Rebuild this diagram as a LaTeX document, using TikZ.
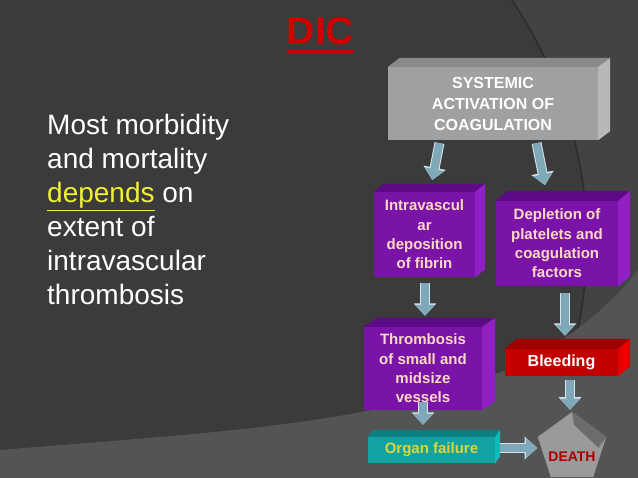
\documentclass[tikz,border=0pt]{standalone}
\usepackage{fontspec}
\setmainfont{Liberation Sans}
\usetikzlibrary{arrows.meta,shapes.geometric}
\definecolor{bgdark}{HTML}{3B3B3B}
\definecolor{bglight}{HTML}{545454}
\definecolor{bgmid}{HTML}{434343}
\definecolor{arcline}{HTML}{2C2C2C}
\definecolor{titlered}{HTML}{D00000}
\definecolor{hiyellow}{HTML}{F0F030}
\definecolor{grayfront}{HTML}{A0A0A0}
\definecolor{graytop}{HTML}{8A8A8A}
\definecolor{grayside}{HTML}{B8B8B8}
\definecolor{purfront}{HTML}{7A14A8}
\definecolor{purtop}{HTML}{5C0A86}
\definecolor{purside}{HTML}{9020C4}
\definecolor{pinktext}{HTML}{FFD9C4}
\definecolor{redfront}{HTML}{C20000}
\definecolor{redtop}{HTML}{9E0000}
\definecolor{redside}{HTML}{E60000}
\definecolor{tealfront}{HTML}{12A2A2}
\definecolor{tealtop}{HTML}{0C8080}
\definecolor{tealside}{HTML}{18B8B8}
\definecolor{tealtext}{HTML}{D8D83A}
\definecolor{deathface}{HTML}{9A9A9A}
\definecolor{deathfacet}{HTML}{6C6C6C}
\definecolor{deathtext}{HTML}{A80000}
\definecolor{arrowfill}{HTML}{7FA9B9}
\definecolor{arrowedge}{HTML}{D5E3EA}
\newcommand\cubefaces[5]{%
  \fill[#2] (#1.north west) -- ++(#4,-#5) -- ([shift={(#4,-#5)}]#1.north east) -- (#1.north east) -- cycle;
  \fill[#3] (#1.north east) -- ++(#4,-#5) -- ([shift={(#4,-#5)}]#1.south east) -- (#1.south east) -- cycle;
}
\tikzset{
  boxface/.style={inner sep=0pt, align=center, font=\bfseries},
  purbox/.style={boxface, fill=purfront, text=pinktext, font=\fontsize{15}{19.3}\selectfont\bfseries},
  blockarrow/.style={draw=arrowfill, line width=8pt, -{Triangle[length=11pt,width=19pt]},
    preaction={draw=arrowedge, line width=10pt, -{Triangle[length=12.5pt,width=22pt]}}},
}
\begin{document}
\begin{tikzpicture}[x=1pt,y=-1pt]
\fill[bgdark] (0,0) rectangle (638,478);
\useasboundingbox (0,0) rectangle (638,478);
% background swooshes
\fill[bgmid] (512,0) .. controls (585,110) and (612,250) .. (560,390) -- (638,390) -- (638,0) -- cycle;
\draw[arcline, line width=1.5pt] (512,0) .. controls (585,110) and (612,250) .. (560,390);
\fill[bglight] (0,450) .. controls (300,425) and (520,420) .. (638,270) -- (638,478) -- (0,478) -- cycle;

% title
\node[inner sep=0pt, anchor=base, text=titlered, font=\fontsize{39}{44}\selectfont\bfseries] (title) at (320.5,45) {DIC};
\draw[titlered, line width=3pt] ([yshift=-7pt]title.base west) -- ([yshift=-7pt]title.base east);

% left text
\node[inner sep=0pt, anchor=north west, align=left, text=white, font=\fontsize{28}{34}\selectfont] (lefttext) at (47,114.5)
 {Most morbidity\\and mortality\\{\color{hiyellow}\underline{depends}} on\\extent of\\intravascular\\thrombosis};

% boxes
\node[boxface, fill=grayfront, text=white, minimum width=210pt, minimum height=73pt,
  font=\fontsize{16}{21}\selectfont\bfseries] (sys) at (493,103.5) {SYSTEMIC\\ACTIVATION OF\\COAGULATION};
\cubefaces{sys}{graytop}{grayside}{12}{9}

\node[purbox, minimum width=101pt, minimum height=85pt] (fib) at (424.5,234.5) {Intravascul\\ar\\deposition\\of fibrin};
\cubefaces{fib}{purtop}{purside}{10}{8}

\node[purbox, minimum width=122pt, minimum height=85pt] (dep) at (557,243.5) {Depletion of\\platelets and\\coagulation\\factors};
\cubefaces{dep}{purtop}{purside}{12}{10}

\node[purbox, minimum width=118pt, minimum height=83pt] (thr) at (423,368.5) {Thrombosis\\of small and\\midsize\\vessels};
\cubefaces{thr}{purtop}{purside}{13}{9}

\node[boxface, fill=redfront, text=white, minimum width=113pt, minimum height=27pt,
  font=\fontsize{16}{19}\selectfont\bfseries] (bleed) at (561.5,362.5) {Bleeding};
\cubefaces{bleed}{redtop}{redside}{12}{10}

\node[boxface, fill=tealfront, text=tealtext, minimum width=127pt, minimum height=26pt,
  font=\fontsize{15}{18}\selectfont\bfseries] (organ) at (431.5,450) {Organ failure};
\cubefaces{organ}{tealtop}{tealside}{5}{7}

% death pentagon
\node[regular polygon, regular polygon sides=5, minimum size=72pt, inner sep=0pt, fill=deathface] (death) at (572,448) {};
\fill[deathfacet] (death.corner 1) -- (death.corner 5) -- ([shift={(-8,11)}]death.corner 5) -- ([shift={(2,13)}]death.corner 1) -- cycle;
\node[inner sep=0pt, text=deathtext, font=\fontsize{14}{16}\selectfont\bfseries] (deathlabel) at ([yshift=-9pt]death.center) {DEATH};

% arrows
\draw[blockarrow, shorten <=3pt, shorten >=12pt] ([xshift=-53pt]sys.south) -- ([xshift=5.5pt]fib.north);
\draw[blockarrow, shorten <=3pt, shorten >=16pt] ([xshift=43pt]sys.south) -- ([xshift=-9pt]dep.north);
\draw[blockarrow, shorten <=6pt, shorten >=11pt] ([xshift=0.5pt]fib.south) -- ([xshift=2pt]thr.north);
\draw[blockarrow, shorten <=7pt, shorten >=13pt] ([xshift=8pt]dep.south) -- ([xshift=3.5pt]bleed.north);
\draw[blockarrow, shorten >=12pt] ([yshift=8pt]thr.south) -- ([xshift=-8.5pt]organ.north);
\draw[blockarrow, shorten <=4pt, shorten >=2pt] ([xshift=8.5pt]bleed.south) -- ([xshift=8.5pt]bleed.south |- death.north);
\draw[blockarrow, shorten <=5pt, shorten >=4pt] ([yshift=2pt]organ.east) -- ([yshift=2pt]organ.east -| death.west);
\end{tikzpicture}
\end{document}
